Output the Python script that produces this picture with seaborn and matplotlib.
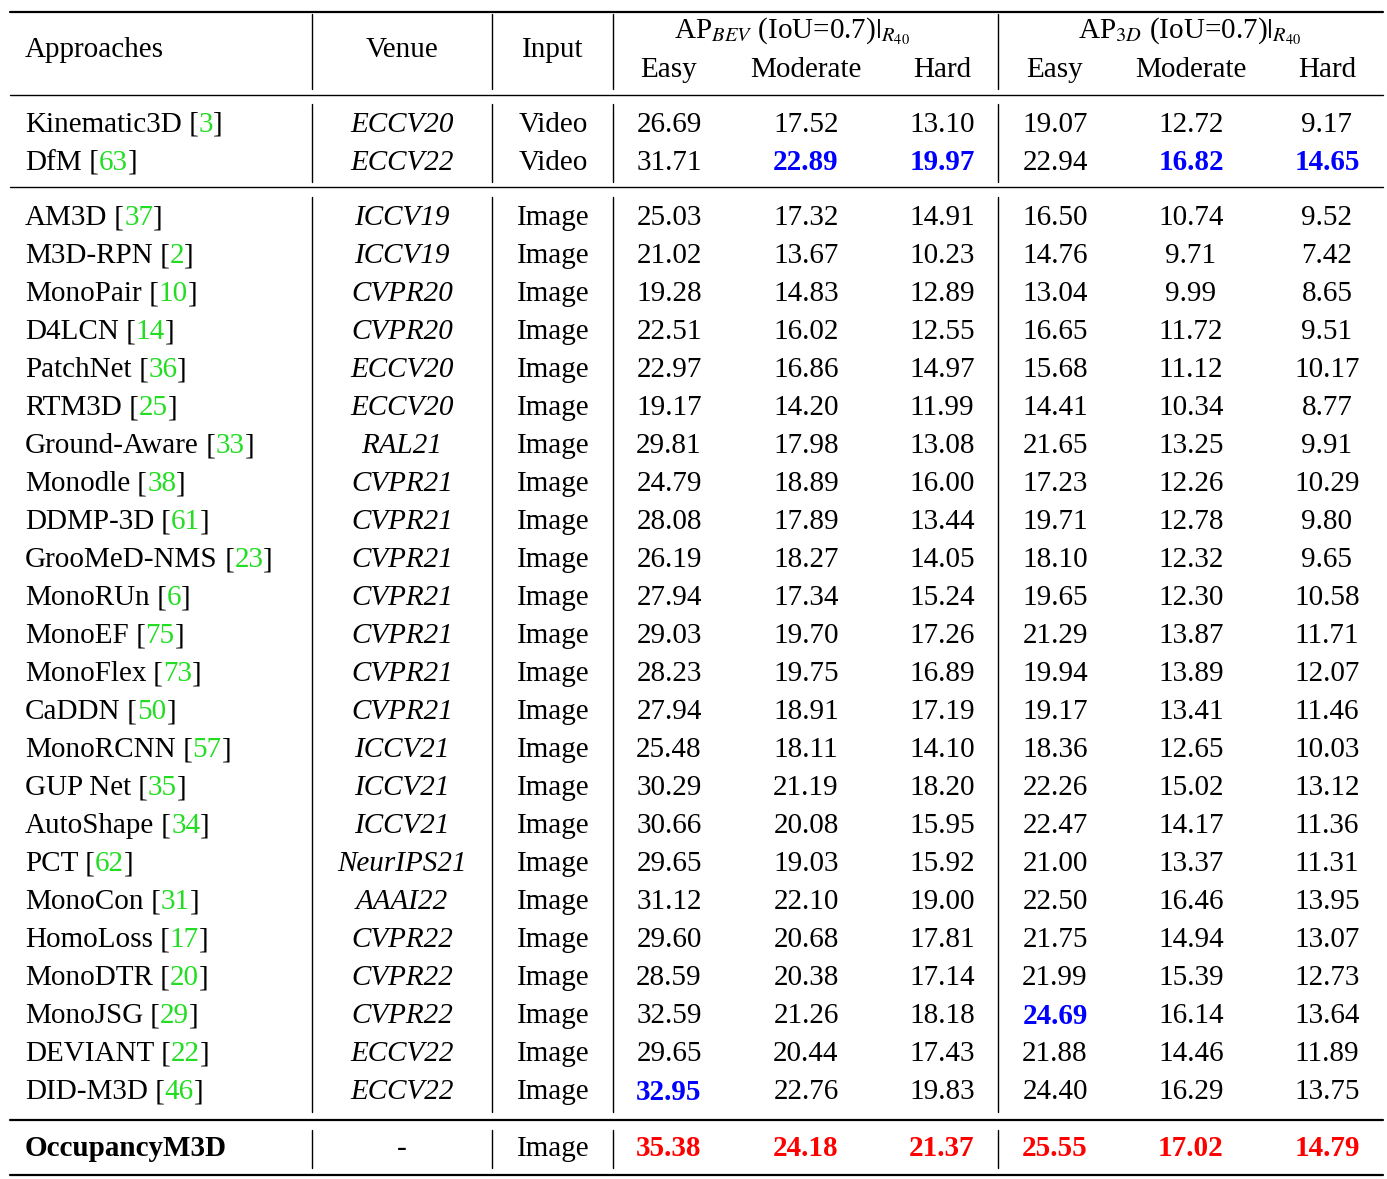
import matplotlib
matplotlib.use("Agg")
import matplotlib.pyplot as plt
import seaborn as sns

sns.set_theme(style="white")
plt.rcParams['font.family'] = ['Liberation Serif', 'DejaVu Serif']
plt.rcParams['mathtext.fontset'] = 'stix'
plt.rcParams['text.color'] = 'black'

methods = ["Kinematic3D", "DfM", "AM3D", "M3D-RPN", "MonoPair", "D4LCN", "PatchNet", "RTM3D",
           "Ground-Aware", "Monodle", "DDMP-3D", "GrooMeD-NMS", "MonoRUn", "MonoEF", "MonoFlex",
           "CaDDN", "MonoRCNN", "GUP Net", "AutoShape", "PCT", "MonoCon", "HomoLoss", "MonoDTR",
           "MonoJSG", "DEVIANT", "DID-M3D", "OccupancyM3D"]
refs = ["3", "63", "37", "2", "10", "14", "36", "25", "33", "38", "61", "23", "6", "75", "73",
        "50", "57", "35", "34", "62", "31", "17", "20", "29", "22", "46", None]
venues = ["ECCV20", "ECCV22", "ICCV19", "ICCV19", "CVPR20", "CVPR20", "ECCV20", "ECCV20", "RAL21",
          "CVPR21", "CVPR21", "CVPR21", "CVPR21", "CVPR21", "CVPR21", "CVPR21", "ICCV21", "ICCV21",
          "ICCV21", "NeurIPS21", "AAAI22", "CVPR22", "CVPR22", "CVPR22", "ECCV22", "ECCV22", "-"]
inputs = ["Video", "Video"] + ["Image"] * 25
scores = [
    ["26.69", "17.52", "13.10", "19.07", "12.72", "9.17"],
    ["31.71", "22.89", "19.97", "22.94", "16.82", "14.65"],
    ["25.03", "17.32", "14.91", "16.50", "10.74", "9.52"],
    ["21.02", "13.67", "10.23", "14.76", "9.71", "7.42"],
    ["19.28", "14.83", "12.89", "13.04", "9.99", "8.65"],
    ["22.51", "16.02", "12.55", "16.65", "11.72", "9.51"],
    ["22.97", "16.86", "14.97", "15.68", "11.12", "10.17"],
    ["19.17", "14.20", "11.99", "14.41", "10.34", "8.77"],
    ["29.81", "17.98", "13.08", "21.65", "13.25", "9.91"],
    ["24.79", "18.89", "16.00", "17.23", "12.26", "10.29"],
    ["28.08", "17.89", "13.44", "19.71", "12.78", "9.80"],
    ["26.19", "18.27", "14.05", "18.10", "12.32", "9.65"],
    ["27.94", "17.34", "15.24", "19.65", "12.30", "10.58"],
    ["29.03", "19.70", "17.26", "21.29", "13.87", "11.71"],
    ["28.23", "19.75", "16.89", "19.94", "13.89", "12.07"],
    ["27.94", "18.91", "17.19", "19.17", "13.41", "11.46"],
    ["25.48", "18.11", "14.10", "18.36", "12.65", "10.03"],
    ["30.29", "21.19", "18.20", "22.26", "15.02", "13.12"],
    ["30.66", "20.08", "15.95", "22.47", "14.17", "11.36"],
    ["29.65", "19.03", "15.92", "21.00", "13.37", "11.31"],
    ["31.12", "22.10", "19.00", "22.50", "16.46", "13.95"],
    ["29.60", "20.68", "17.81", "21.75", "14.94", "13.07"],
    ["28.59", "20.38", "17.14", "21.99", "15.39", "12.73"],
    ["32.59", "21.26", "18.18", "24.69", "16.14", "13.64"],
    ["29.65", "20.44", "17.43", "21.88", "14.46", "11.89"],
    ["32.95", "22.76", "19.83", "24.40", "16.29", "13.75"],
    ["35.38", "24.18", "21.37", "25.55", "17.02", "14.79"],
]
second_best = {(1, 1), (1, 2), (1, 4), (1, 5), (23, 3), (25, 0)}
best_row = 26
sub_cols = ["Easy", "Moderate", "Hard", "Easy", "Moderate", "Hard"]

W, H = 1387, 1179
fig = plt.figure(figsize=(W / 100, H / 100), dpi=100)
ax = fig.add_axes([0, 0, 1, 1])
ax.set_xlim(0, W)
ax.set_ylim(H, 0)
ax.axis("off")

fs = 21
green = "#22dd22"
score_x = [669, 806, 942, 1055, 1191, 1327]
dy = 2


def row_y(i):
    if i < 2:
        return 123 + 38 * i + dy
    if i < 26:
        return 216 + 38 * (i - 2) + dy
    return 1147 + dy


fig.canvas.draw()
renderer = fig.canvas.get_renderer()
inv = ax.transData.inverted()

for i, name in enumerate(methods):
    y = row_y(i)
    bold = i == best_row
    t = ax.text(25, y, name, fontsize=fs, va="center", ha="left",
                fontweight="bold" if bold else "normal")
    if refs[i] is not None:
        bb = t.get_window_extent(renderer)
        x = inv.transform((bb.x1, 0))[0]
        parts = [(" [", "black"), (refs[i], green), ("]", "black")]
        for s, c in parts:
            tt = ax.text(x, y, s, fontsize=fs, va="center", ha="left", color=c)
            bb = tt.get_window_extent(renderer)
            x = inv.transform((bb.x1, 0))[0]
    ax.text(402, y, venues[i], fontsize=fs, va="center", ha="center",
            style="normal" if venues[i] == "-" else "italic")
    ax.text(553, y, inputs[i], fontsize=fs, va="center", ha="center")
    for j, v in enumerate(scores[i]):
        color, weight = "black", "normal"
        if i == best_row:
            color, weight = "#ff0000", "bold"
        elif (i, j) in second_best:
            color, weight = "#0000ff", "bold"
        ax.text(score_x[j], y, v, fontsize=fs, va="center", ha="center",
                color=color, fontweight=weight)

# header
ax.text(25, 50, "Approaches", fontsize=fs, va="center", ha="left")
ax.text(402, 50, "Venue", fontsize=fs, va="center", ha="center")
ax.text(553, 50, "Input", fontsize=fs, va="center", ha="center")
ax.text(792, 31, r"AP$_{BEV}$ (IoU=0.7)$|_{R_{40}}$", fontsize=fs, va="center", ha="center")
ax.text(1190, 31, r"AP$_{3D}$ (IoU=0.7)$|_{R_{40}}$", fontsize=fs, va="center", ha="center")
for j, s in enumerate(sub_cols):
    ax.text(score_x[j], 70, s, fontsize=fs, va="center", ha="center")

# rules
ax.plot([10, 1383], [12, 12], color="black", lw=1.6)
ax.plot([10, 1383], [95, 95], color="black", lw=1.0)
ax.plot([10, 1383], [187, 187], color="black", lw=1.0)
ax.plot([10, 1383], [1120, 1120], color="black", lw=1.6)
ax.plot([10, 1383], [1175, 1175], color="black", lw=1.6)
sections = [(14, 89), (104, 182), (197, 1112), (1130, 1168)]
for x in [312, 492, 613, 998]:
    for a, b in sections:
        ax.plot([x, x], [a, b], color="black", lw=1.0)

fig.savefig("out.png", dpi=100)
